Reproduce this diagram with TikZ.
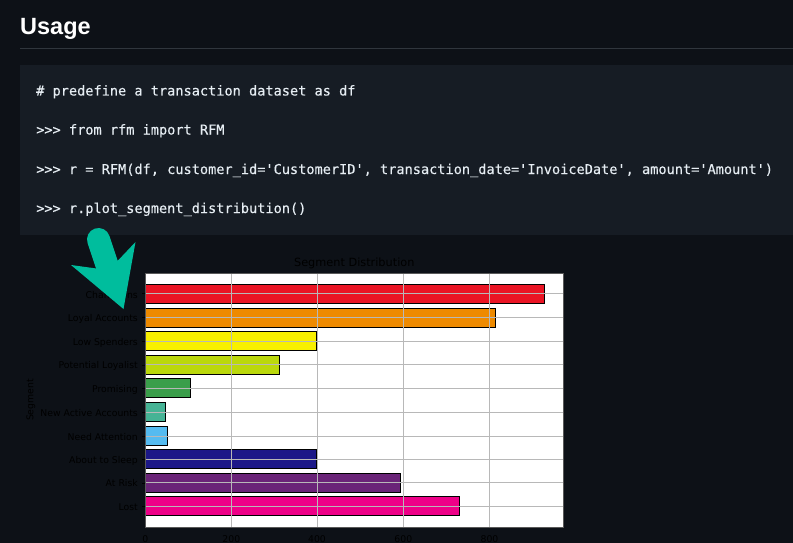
\documentclass[tikz,border=0pt]{standalone}
\usepackage{fontspec}
\setmainfont{DejaVu Sans}
\newfontfamily\headfont{Liberation Sans}
\newfontfamily\codefont[FakeBold=0.25]{DejaVu Sans Mono}
\definecolor{pagebg}{HTML}{0D1117}
\definecolor{codebg}{HTML}{161C24}
\definecolor{rulegray}{HTML}{30363D}
\definecolor{arrowteal}{HTML}{00BD9D}
\definecolor{codewhite}{HTML}{E6EDF3}
\definecolor{segred}{HTML}{EA1424}
\definecolor{segorange}{HTML}{EE8A00}
\definecolor{segyellow}{HTML}{F8F000}
\definecolor{seglime}{HTML}{BBD80C}
\definecolor{seggreen}{HTML}{3A9E4A}
\definecolor{segteal}{HTML}{46B395}
\definecolor{segblue}{HTML}{55BBF0}
\definecolor{segnavy}{HTML}{1C1888}
\definecolor{segpurple}{HTML}{6A2478}
\definecolor{segpink}{HTML}{EE0088}
\tikzset{
	codeline/.style={anchor=base west, inner sep=0, text=codewhite, font=\codefont\fontsize{13.6}{16}\selectfont},
	seglabel/.style={anchor=base east, inner sep=0, text=black, font=\fontsize{9.3}{11}\selectfont},
	valuelabel/.style={anchor=base, inner sep=0, text=black, font=\fontsize{9.3}{11}\selectfont},
	gridline/.style={line width=0.8pt, color=black!28},
}
\def\segbar[#1](#2:#3){\draw[line width=0.7pt, color=black, fill=#1] (145.3, #2-9.5) rectangle (#3, #2+9.5);}
\def\segtick(#1){\draw[line width=0.6pt, color=black] (142, #1) -- (145.3, #1);}

\begin{document}
\begin{tikzpicture}[x=1pt, y=-1pt]
			%%%%% PAGE %%%%%
			\useasboundingbox (0, 0) rectangle (793, 543);
			\fill[pagebg] (0, 0) rectangle (793, 543);
			
			\node[anchor=base west, inner sep=0, text=white, font=\headfont\bfseries\fontsize{23.5}{28}\selectfont] (usagetitle) at (20, 35) {Usage};
			\draw[line width=1pt, color=rulegray] (20, 48.5) -- (793, 48.5);
			
			%%%%% CODE %%%%%
			\fill[codebg] (20, 65) rectangle (793, 235);
			\node[codeline] (codeone) at (36, 95.5) {\# predefine a transaction dataset as df};
			\node[codeline] (codetwo) at (36, 134.5) {>{}>{}> from rfm import RFM};
			\node[codeline] (codethree) at (36, 174) {>{}>{}> r = RFM(df, customer\_id='CustomerID', transaction\_date='InvoiceDate', amount='Amount')};
			\node[codeline] (codefour) at (36, 213) {>{}>{}> r.plot\_segment\_distribution()};
			
			%%%%% PLOT %%%%%
			\fill[white] (145.3, 273) rectangle (563.5, 527);
			
			\segbar[segred](293.7:544.3)
			\segbar[segorange](317.8:495.3)
			\segbar[segyellow](341.3:316.8)
			\segbar[seglime](364.8:279.3)
			\segbar[seggreen](388.3:190.3)
			\segbar[segteal](412.3:165.7)
			\segbar[segblue](436:167.7)
			\segbar[segnavy](459.3:316.3)
			\segbar[segpurple](482.8:400.7)
			\segbar[segpink](506.3:459.7)
			
			\draw[gridline] (231.3, 273) -- (231.3, 527);
			\draw[gridline] (317, 273) -- (317, 527);
			\draw[gridline] (403.3, 273) -- (403.3, 527);
			\draw[gridline] (489.5, 273) -- (489.5, 527);
			
			\draw[gridline] (145.3, 293.5) -- (563.5, 293.5);
			\draw[gridline] (145.3, 317.7) -- (563.5, 317.7);
			\draw[gridline] (145.3, 341.3) -- (563.5, 341.3);
			\draw[gridline] (145.3, 364.8) -- (563.5, 364.8);
			\draw[gridline] (145.3, 388.3) -- (563.5, 388.3);
			\draw[gridline] (145.3, 412.3) -- (563.5, 412.3);
			\draw[gridline] (145.3, 436) -- (563.5, 436);
			\draw[gridline] (145.3, 459.3) -- (563.5, 459.3);
			\draw[gridline] (145.3, 482.8) -- (563.5, 482.8);
			\draw[gridline] (145.3, 506.3) -- (563.5, 506.3);
			
			\draw[line width=0.8pt, color=black!65] (145.3, 273) rectangle (563.5, 527);
			
			\segtick(293.5)
			\segtick(317.7)
			\segtick(341.3)
			\segtick(364.8)
			\segtick(388.3)
			\segtick(412.3)
			\segtick(436)
			\segtick(459.3)
			\segtick(482.8)
			\segtick(506.3)
			
			\node[seglabel] (champions) at (138, 298.2) {Champions};
			\node[seglabel] (loyal) at (138, 321.7) {Loyal Accounts};
			\node[seglabel] (spenders) at (138, 345.3) {Low Spenders};
			\node[seglabel] (potential) at (138, 368.8) {Potential Loyalist};
			\node[seglabel] (promising) at (138, 392.3) {Promising};
			\node[seglabel] (newactive) at (138, 416.3) {New Active Accounts};
			\node[seglabel] (attention) at (138, 440) {Need Attention};
			\node[seglabel] (sleep) at (138, 463.3) {About to Sleep};
			\node[seglabel] (risk) at (138, 486.8) {At Risk};
			\node[seglabel] (lost) at (138, 510.3) {Lost};
			
			\node[valuelabel] (valzero) at (145.3, 542) {0};
			\node[valuelabel] (valtwo) at (231.3, 542) {200};
			\node[valuelabel] (valfour) at (317, 542) {400};
			\node[valuelabel] (valsix) at (403.3, 542) {600};
			\node[valuelabel] (valeight) at (489.5, 542) {800};
			
			\node[inner sep=0, text=black, font=\fontsize{11.3}{13}\selectfont] (plottitle) at (354.3, 263.7) {Segment Distribution};
			\node[inner sep=0, rotate=90, text=black, font=\fontsize{9.3}{11}\selectfont] (segaxis) at (31, 400) {Segment};
			
			%%%%% ARROW %%%%%
			\draw[line width=23pt, line cap=round, color=arrowteal] (98.5, 239.5) -- (108, 268);
			\fill[arrowteal] (71, 265) -- (96.5, 268.5) -- (118, 260.5) -- (135.5, 242) -- (123.5, 309) -- cycle;
		\end{tikzpicture}
\end{document}
